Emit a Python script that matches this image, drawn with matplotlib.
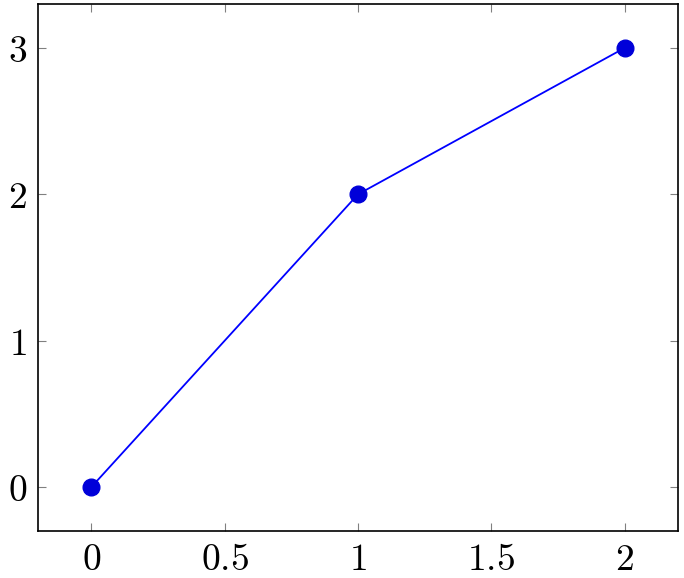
import matplotlib
matplotlib.use('Agg')
import matplotlib.pyplot as plt
from matplotlib.ticker import FuncFormatter

x = [0, 1, 2]
y = [0, 2, 3]
xticks = [0, 0.5, 1, 1.5, 2]
yticks = [0, 1, 2, 3]

plt.rcParams['mathtext.fontset'] = 'cm'

fig = plt.figure(figsize=(6.84, 5.78), dpi=100)
ax = fig.add_axes([38/684, 47/578, 640/684, 527/578])

ax.plot(x, y, color='blue', linewidth=1.3, marker='o', markersize=12,
        markerfacecolor=(0, 0, 0.85), markeredgecolor=(0, 0, 0.85))

ax.set_xlim(-0.2, 2.2)
ax.set_ylim(-0.3, 3.3)
ax.set_xticks(xticks)
ax.set_yticks(yticks)
fmt = FuncFormatter(lambda v, p: '$%g$' % v)
ax.xaxis.set_major_formatter(fmt)
ax.yaxis.set_major_formatter(fmt)
ax.tick_params(direction='in', length=6, width=0.8, color='#808080',
               top=True, right=True, labelsize=27, pad=8)
for s in ax.spines.values():
    s.set_linewidth(1.2)

fig.savefig('out.png', dpi=100)
